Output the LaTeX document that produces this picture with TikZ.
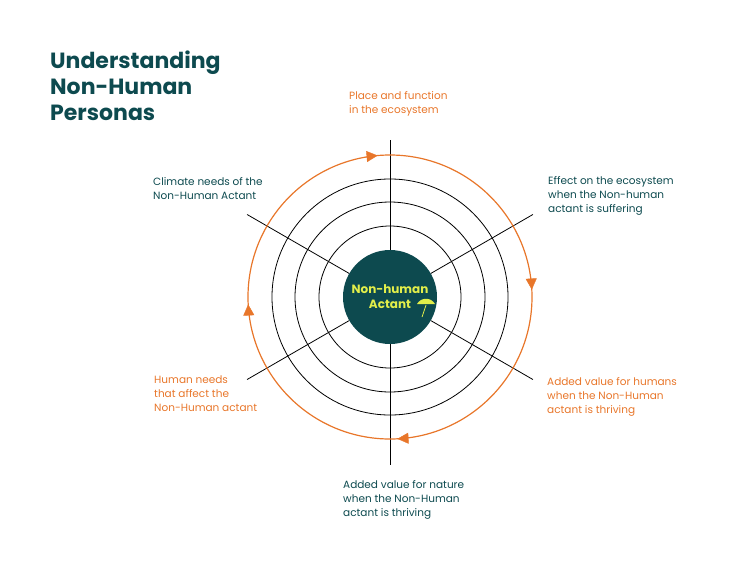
\documentclass[tikz,border=0pt]{standalone}
\usepackage{fontspec}
\setmainfont{Poppins}
\usetikzlibrary{arrows.meta,calc}
\definecolor{teal}{HTML}{0D4A4F}
\definecolor{orng}{HTML}{E8762A}
\definecolor{yell}{HTML}{E2EE4A}
\tikzset{
  lbl/.style={align=left,anchor=north west,font=\fontsize{10.5}{14}\selectfont,inner sep=0pt},
  ring/.style={draw=black,line width=0.8pt},
  cyc/.style={orng,line width=1.2pt},
  tip/.style={orng,-{Triangle[length=11pt,width=11pt]}}
}
\begin{document}
\begin{tikzpicture}[x=1pt,y=-1pt]
  \useasboundingbox (0,0) rectangle (750,563);
  \coordinate (c) at (390,297);

  % title
  \node[lbl,anchor=west,teal,font=\fontsize{22}{26}\selectfont\bfseries] (title) at (50,86)
    {Understanding\\Non-Human\\Personas};

  % rings and spokes
  \draw[ring] (390,140) -- (390,465);
  \foreach \r in {71,95,118} \draw[ring] (c) circle (\r);
  \node[circle,fill=teal,minimum size=94pt,inner sep=0pt] (core) at (c) {};
  \foreach \a in {30,150,210,330}
    \draw[ring] (core.\a) -- ($(c)+(-\a:165)$);

  % orange cycle (clockwise)
  \draw[cyc] (c) circle (142);
  \foreach \a in {-95,-3,87,177}
    \draw[tip] ($(c)+(\a-6:142)$) arc (\a-6:\a:142);

  % centre text and icon
  \node[yell,align=center,font=\fontsize{12}{15}\selectfont\bfseries] (name) at (c)
    {Non-human\\Actant\hspace{14pt}};
  \fill[yell] (417,304) .. controls (421,297) and (431,297) .. (435,304) -- cycle;
  \draw[yell,line width=0.8pt] (426,305) -- (422,317);

  % labels
  \node[lbl,orng] (place) at (349,91) {Place and function\\in the ecosystem};
  \node[lbl,teal] (climate) at (153,177) {Climate needs of the\\Non-Human Actant};
  \node[lbl,teal] (effect) at (548,176) {Effect on the ecosystem\\when the Non-human\\actant is suffering};
  \node[lbl,orng] (humans) at (547,377) {Added value for humans\\when the Non-Human\\actant is thriving};
  \node[lbl,orng] (needs) at (154,376) {Human needs\\that affect the\\Non-Human actant};
  \node[lbl,teal] (nature) at (343,480) {Added value for nature\\when the Non-Human\\actant is thriving};
\end{tikzpicture}
\end{document}
